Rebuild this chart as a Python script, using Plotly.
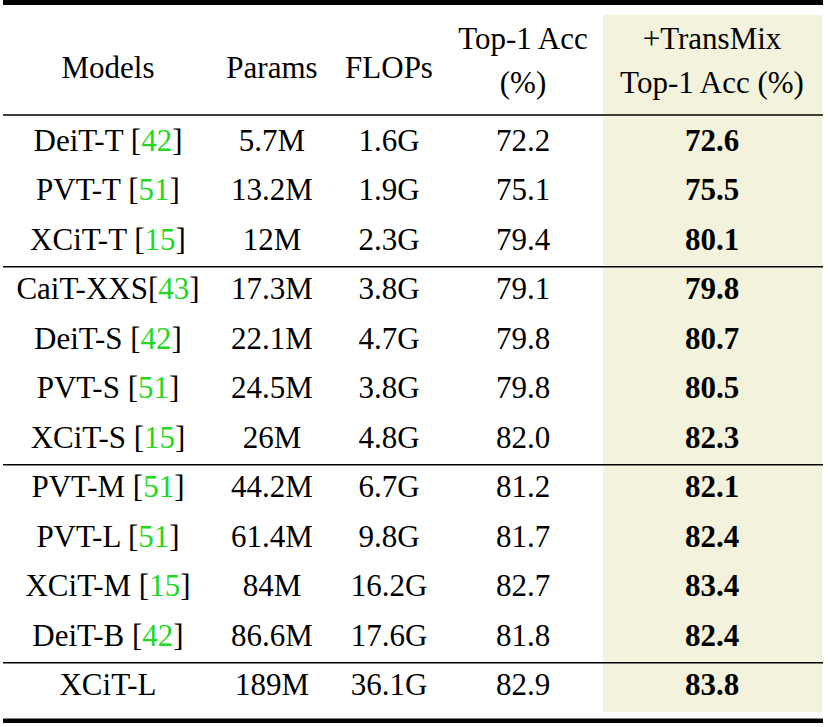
import plotly.graph_objects as go

# table content
models = ["DeiT-T", "PVT-T", "XCiT-T", "CaiT-XXS", "DeiT-S", "PVT-S", "XCiT-S",
          "PVT-M", "PVT-L", "XCiT-M", "DeiT-B", "XCiT-L"]
refs = ["42", "51", "15", "43", "42", "51", "15", "51", "51", "15", "42", ""]
params = ["5.7M", "13.2M", "12M", "17.3M", "22.1M", "24.5M", "26M",
          "44.2M", "61.4M", "84M", "86.6M", "189M"]
flops = ["1.6G", "1.9G", "2.3G", "3.8G", "4.7G", "3.8G", "4.8G",
         "6.7G", "9.8G", "16.2G", "17.6G", "36.1G"]
top1 = [72.2, 75.1, 79.4, 79.1, 79.8, 79.8, 82.0, 81.2, 81.7, 82.7, 81.8, 82.9]
transmix = [72.6, 75.5, 80.1, 79.8, 80.7, 80.5, 82.3, 82.1, 82.4, 83.4, 82.4, 83.8]
group_ends = [2, 6, 10]  # a rule is drawn under these rows

# layout constants (pixels)
W, H = 828, 727
ROW0, ROW_H = 143, 49.5
col_x = [108, 272, 389, 523, 712]
FONT = "Liberation Serif, Times New Roman, serif"
FS = 31
GREEN = "#22d822"
SHADE = "#f3f2dc"


def row_of(px):
    return (px - ROW0) / ROW_H


rows = list(range(len(models)))

model_txt = []
for m, r in zip(models, refs):
    if r:
        sep = "" if m == "CaiT-XXS" else " "
        model_txt.append(f'{m}{sep}[<span style="color:{GREEN}">{r}</span>]')
    else:
        model_txt.append(m)

fig = go.Figure()

columns = [
    model_txt,
    params,
    flops,
    [f"{v:.1f}" for v in top1],
    [f"<b>{v:.1f}</b>" for v in transmix],
]
for cx, texts in zip(col_x, columns):
    fig.add_trace(go.Scatter(
        x=[cx] * len(rows), y=rows, text=texts, mode="text",
        textposition="middle center",
        textfont=dict(family=FONT, size=FS, color="black"),
        hoverinfo="skip", showlegend=False,
    ))

# header
hdr_x = [col_x[0], col_x[1], col_x[2], col_x[3], col_x[3], col_x[4], col_x[4]]
hdr_y = [row_of(70), row_of(70), row_of(70), row_of(41), row_of(85), row_of(41), row_of(85)]
hdr_t = ["Models", "Params", "FLOPs", "Top-1 Acc", "(%)", "+TransMix", "Top-1 Acc (%)"]
fig.add_trace(go.Scatter(
    x=hdr_x, y=hdr_y, text=hdr_t, mode="text", textposition="middle center",
    textfont=dict(family=FONT, size=FS, color="black"),
    hoverinfo="skip", showlegend=False,
))

shapes = [
    # shaded TransMix column
    dict(type="rect", xref="x", yref="y", x0=603, x1=822,
         y0=row_of(15), y1=row_of(712), fillcolor=SHADE, line=dict(width=0),
         layer="below"),
    # top and bottom thick rules
    dict(type="rect", xref="x", yref="y", x0=3, x1=823,
         y0=row_of(0), y1=row_of(5), fillcolor="black", line=dict(width=0)),
    dict(type="rect", xref="x", yref="y", x0=3, x1=823,
         y0=row_of(718.5), y1=row_of(723), fillcolor="black", line=dict(width=0)),
    # header rule
    dict(type="line", xref="x", yref="y", x0=3, x1=823,
         y0=row_of(115), y1=row_of(115), line=dict(color="black", width=1.6)),
]
for g in group_ends:
    yy = g + 0.5
    shapes.append(dict(type="line", xref="x", yref="y", x0=3, x1=823,
                       y0=yy, y1=yy, line=dict(color="black", width=1.6)))

fig.update_layout(
    width=W, height=H,
    margin=dict(l=0, r=0, t=0, b=0),
    paper_bgcolor="white", plot_bgcolor="white",
    xaxis=dict(range=[0, W], visible=False, fixedrange=True),
    yaxis=dict(range=[row_of(H), row_of(0)], visible=False, fixedrange=True),
    shapes=shapes,
)

# drop the default page margin so the table sits flush with the window
fig.write_html("out.html", config={"displayModeBar": False},
               post_script="document.body.style.margin='0';document.body.style.overflow='hidden';")
